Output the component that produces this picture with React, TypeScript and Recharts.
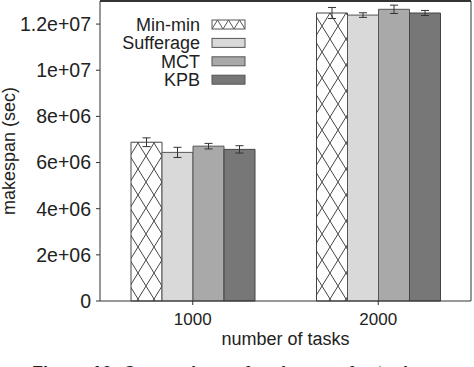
import { BarChart, Bar, XAxis, YAxis, ErrorBar, ReferenceLine } from 'recharts'

const categories = ['1000', '2000']
const seriesNames = ['Min-min', 'Sufferage', 'MCT', 'KPB']
const minMin = [6880000, 12480000]
const minMinErr = [190000, 240000]
const sufferage = [6440000, 12390000]
const sufferageErr = [220000, 100000]
const mct = [6710000, 12640000]
const mctErr = [120000, 180000]
const kpb = [6570000, 12480000]
const kpbErr = [160000, 110000]
const yTicks = [0, 2000000, 4000000, 6000000, 8000000, 10000000, 12000000]
const yTickLabels = ['0', '2e+06', '4e+06', '6e+06', '8e+06', '1e+07', '1.2e+07']

const fills = ['url(#hatch)', '#d9d9d9', '#a9a9a9', '#777777']
const swatchFills = ['url(#hatchLegend)', '#d9d9d9', '#a9a9a9', '#777777']

const data = categories.map((c, i) => ({
	tasks: c,
	minMin: minMin[i],
	minMinErr: minMinErr[i],
	sufferage: sufferage[i],
	sufferageErr: sufferageErr[i],
	mct: mct[i],
	mctErr: mctErr[i],
	kpb: kpb[i],
	kpbErr: kpbErr[i],
}))

const font = 'Liberation Sans, Arial, sans-serif'

// legend drawn on top of the plot, like the original figure
function LegendBox() {
	return (
		<svg width={260} height={100} style={{ position: 'absolute', left: 0, top: 0 }}>
			<defs>
				<pattern id="hatchLegend" width={11} height={9} patternUnits="userSpaceOnUse" x={212} y={20}>
					<rect width={11} height={9} fill="#fff" />
					<path d="M0,9 L5.5,0 L11,9" stroke="#555" strokeWidth={1} fill="none" />
				</pattern>
			</defs>
			{seriesNames.map((name, i) => (
				<g key={name}>
					<text
						x={200}
						y={31 + i * 18.4}
						textAnchor="end"
						fontSize={18}
						fontFamily={font}
						fill="#222"
					>
						{name}
					</text>
					<rect
						x={212}
						y={20 + i * 18.4}
						width={33}
						height={9}
						fill={swatchFills[i]}
						stroke="#555"
						strokeWidth={1}
					/>
				</g>
			))}
		</svg>
	)
}

export default function App() {
	return (
		<div style={{ position: 'absolute', left: 0, top: 0, width: 474, height: 367, overflow: 'hidden', background: '#fff' }}>
			<BarChart
				width={474}
				height={367}
				data={data}
				margin={{ top: 1, right: 0, bottom: 0, left: 0 }}
				barGap={0}
				barSize={31}
			>
				<defs>
					<pattern id="hatch" width={16} height={26} patternUnits="userSpaceOnUse" x={2}>
						<rect width={16} height={26} fill="#fff" />
						<path d="M0,0 L16,26 M16,0 L0,26" stroke="#444" strokeWidth={1} />
					</pattern>
				</defs>
				<XAxis
					dataKey="tasks"
					height={66}
					tickSize={4}
					tickMargin={8}
					stroke="#333"
					tick={{ fill: '#222', fontSize: 17, fontFamily: font }}
					label={{
						value: 'number of tasks',
						position: 'insideBottom',
						offset: 22,
						style: { fill: '#222', fontSize: 18, fontFamily: font },
					}}
				/>
				<YAxis
					width={100}
					domain={[0, 13000000]}
					ticks={yTicks}
					tickFormatter={(v: number) => yTickLabels[yTicks.indexOf(v)] ?? String(v)}
					tickSize={4}
					tickMargin={5}
					stroke="#333"
					interval={0}
					tick={{ fill: '#222', fontSize: 19.5, fontFamily: font }}
					label={{
						value: 'makespan (sec)',
						angle: -90,
						position: 'insideLeft',
						offset: 9,
						style: { fill: '#222', fontSize: 18, fontFamily: font, textAnchor: 'middle' },
					}}
				/>
				<YAxis yAxisId="right" orientation="right" width={3} tick={false} tickLine={false} stroke="#333" domain={[0, 13000000]} />
				<ReferenceLine y={13000000} stroke="#333" strokeWidth={2} />
				<Bar dataKey="minMin" name="Min-min" fill={fills[0]} stroke="#444" isAnimationActive={false}>
					<ErrorBar dataKey="minMinErr" width={4} stroke="#333" strokeWidth={1} />
				</Bar>
				<Bar dataKey="sufferage" name="Sufferage" fill={fills[1]} stroke="#555" isAnimationActive={false}>
					<ErrorBar dataKey="sufferageErr" width={4} stroke="#333" strokeWidth={1} />
				</Bar>
				<Bar dataKey="mct" name="MCT" fill={fills[2]} stroke="#555" isAnimationActive={false}>
					<ErrorBar dataKey="mctErr" width={4} stroke="#333" strokeWidth={1} />
				</Bar>
				<Bar dataKey="kpb" name="KPB" fill={fills[3]} stroke="#444" isAnimationActive={false}>
					<ErrorBar dataKey="kpbErr" width={4} stroke="#333" strokeWidth={1} />
				</Bar>
			</BarChart>
			<LegendBox />
			<div
				style={{
					position: 'absolute',
					left: 32,
					top: 363,
					fontFamily: font,
					fontWeight: 'bold',
					fontSize: 18,
					whiteSpace: 'nowrap',
					color: '#222',
				}}
			>
				Figure 10: Comparison of makespan for tasks
			</div>
		</div>
	)
}
